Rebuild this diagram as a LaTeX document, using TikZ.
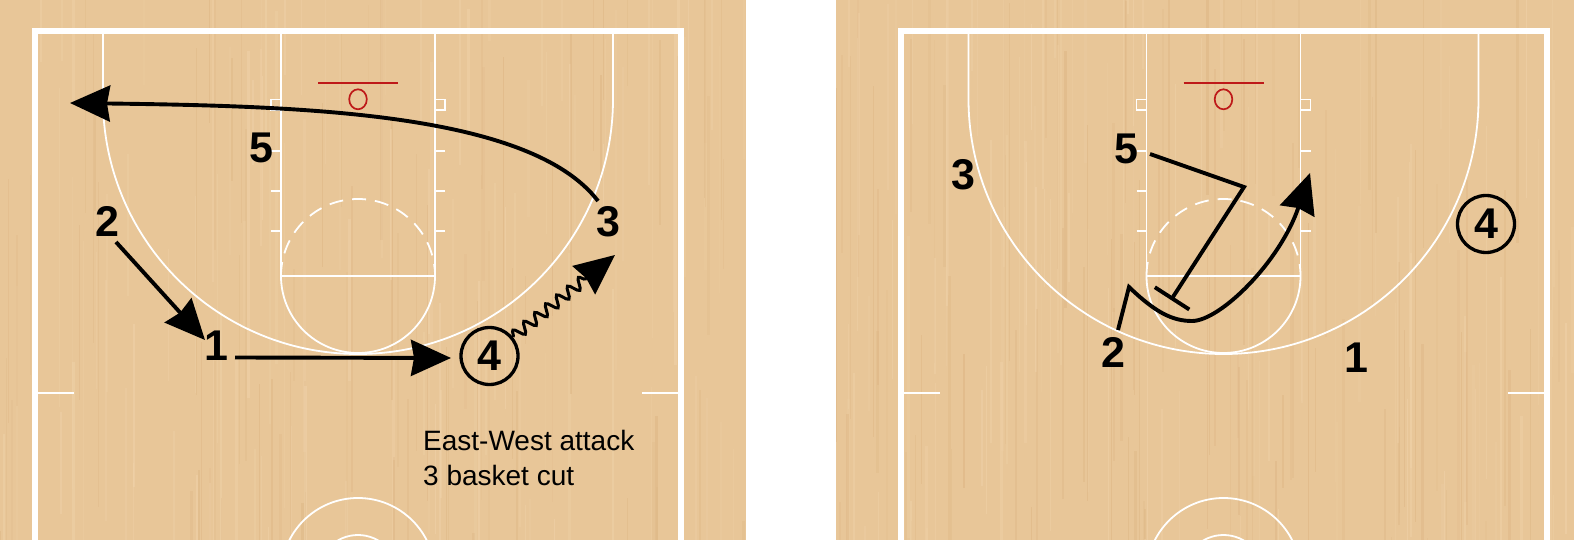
\documentclass[tikz,border=0pt]{standalone}
\usepackage{fontspec}
\setmainfont{Liberation Sans}
\usetikzlibrary{arrows.meta,decorations.pathmorphing}

\definecolor{wood}{RGB}{232,198,152}
\definecolor{wooddark}{RGB}{215,172,120}
\definecolor{woodlight}{RGB}{245,218,180}
\definecolor{hoop}{RGB}{190,25,25}

\tikzset{
  border/.style={white, line width=6pt},
  courtline/.style={white, line width=1.8pt},
  hashline/.style={white, line width=1.6pt},
  player/.style={font=\fontsize{43}{43}\selectfont\bfseries, inner sep=0pt},
  ballplayer/.style={player, draw, circle, line width=3.3pt, minimum size=57pt},
  move/.style={line width=3.9pt, -{Stealth[length=40pt,width=36pt,inset=3pt]}},
  screenline/.style={line width=3.9pt, -{Bar[width=41pt]}},
  dribble/.style={line width=3pt, decorate,
    decoration={snake, amplitude=5.5pt, segment length=14pt, post length=36pt},
    -{Stealth[length=40pt,width=36pt,inset=3pt]}},
  notetext/.style={font=\fontsize{28}{34}\selectfont, inner sep=0pt, anchor=base west},
  court/.pic={
    % basket
    \draw[hoop, line width=2pt] (318,82.7) -- (398,82.7);
    \draw[hoop, line width=1.7pt] (358,99.3) ellipse[x radius=8.8, y radius=10];
    % lane
    \draw[courtline] (281,34) -- (281,276) -- (435,276) -- (435,34);
    % lane marks
    \draw[hashline] (281,99.5) -- (271,99.5) -- (271,110) -- (281,110);
    \draw[hashline] (435,99.5) -- (445,99.5) -- (445,110) -- (435,110);
    \foreach \hy in {151,191,231}{
      \draw[hashline] (271,\hy) -- (281,\hy);
      \draw[hashline] (435,\hy) -- (445,\hy);
    }
    % free throw circle
    \draw[courtline] (281,276) arc[start angle=180, end angle=0, radius=77];
    \draw[courtline, dash pattern=on 14pt off 9pt] (281,276) arc[start angle=180, end angle=360, radius=77];
    % three point line
    \draw[courtline] (103,34) -- (103,99) arc[start angle=180, end angle=0, radius=255] -- (613,34);
    % sideline marks
    \draw[hashline] (38,393) -- (74,393);
    \draw[hashline] (642,393) -- (678,393);
    % center circle
    \draw[courtline] (358,575) circle[radius=77];
    \draw[courtline] (358,575) circle[radius=40];
    % boundary
    \draw[border] (35,560) -- (35,31) -- (681,31) -- (681,560);
  }
}

\begin{document}
\begin{tikzpicture}[x=1pt,y=-1pt]
\useasboundingbox (0,0) rectangle (1574,540);
\clip (0,0) rectangle (1574,540);
\fill[white] (0,0) rectangle (1574,540);
\fill[wood] (0,0) rectangle (746,540);
\fill[wood] (836,0) rectangle (1574,540);

% wood grain
\begin{scope}
\clip (0,0) rectangle (746,540) (836,0) rectangle (1574,540);
\pgfmathsetseed{7}
\foreach \i in {1,...,420}{
  \pgfmathsetmacro{\gx}{rnd*1574}
  \pgfmathsetmacro{\gw}{0.6+2.2*rnd}
  \pgfmathsetmacro{\go}{0.10+0.25*rnd}
  \pgfmathsetmacro{\gy}{rnd*640-100}
  \pgfmathsetmacro{\gl}{80+rnd*300}
  \pgfmathsetmacro{\gc}{rnd}
  \ifdim\gc pt<0.5pt
    \fill[wooddark, opacity=\go] (\gx,\gy) rectangle ++(\gw,\gl);
  \else
    \fill[woodlight, opacity=\go] (\gx,\gy) rectangle ++(\gw,\gl);
  \fi
}
\end{scope}

\pic at (0,0) {court};
\pic at (865.5,0) {court};

% ---------- left diagram ----------
\node[player] (p5) at (261,148) {5};
\node[player] (p2) at (107,221) {2};
\node[player] (p3) at (608,222) {3};
\node[player] (p1) at (216,346) {1};
\node[ballplayer] (c4) at (489.5,356) {4};

\coordinate (l3s) at (598,201);
\coordinate (l3e) at (70,103);
\coordinate (l2s) at (116,242);
\coordinate (l2e) at (205,340);
\coordinate (l1s) at (235,357.5);
\coordinate (l1e) at (451,358);
\coordinate (l4e) at (615,255);

\draw[move] (l3s) .. controls (530,112) and (300,106) .. (l3e);
\draw[move] (l2s) -- (l2e);
\draw[move] (l1s) -- (l1e);
\draw[dribble] (c4) -- (l4e);

\node[notetext] (t1) at (423,450) {East-West attack};
\node[notetext] (t2) at (423,485) {3 basket cut};

% ---------- right diagram ----------
\node[player] (q3) at (963,175) {3};
\node[player] (q5) at (1126.5,148.5) {5};
\node[player] (q2) at (1113,352) {2};
\node[player] (q1) at (1356,358) {1};
\node[ballplayer] (d4) at (1486,224) {4};

\coordinate (r5s) at (1150,154);
\coordinate (r5c) at (1244,187);
\coordinate (r5e) at (1171,300);
\draw[screenline] (r5s) -- (r5c) -- (r5e);

\coordinate (r2s) at (1118,330);
\coordinate (r2p) at (1129,287);
\coordinate (r2b) at (1192,321);
\coordinate (r2e) at (1310,173);
\draw[move] (r2s) -- (r2p) .. controls (1155,312) and (1172,321) .. (r2b)
  .. controls (1220,321) and (1280,262) .. (r2e);
\end{tikzpicture}
\end{document}
